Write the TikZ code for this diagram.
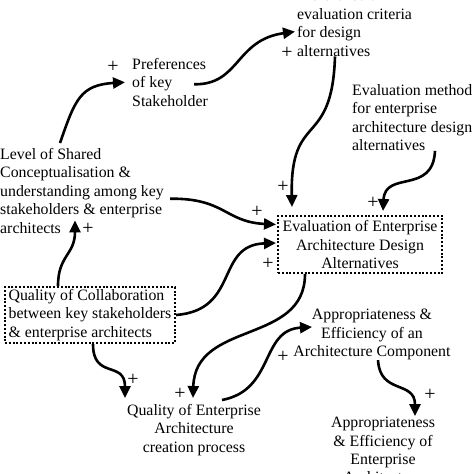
\documentclass[tikz,border=0pt]{standalone}
\usepackage{fontspec}
\setmainfont{Liberation Serif}
\usetikzlibrary{arrows.meta}
\tikzset{
	txt/.style={inner sep=0pt, font=\fontsize{15.9}{18.5}\selectfont},
	dotbox/.style={txt, draw, line width=2bp, dash pattern=on 2bp off 1.8bp},
	sign/.style={inner sep=0pt, font=\fontsize{20}{20}\selectfont},
	link/.style={line width=2.6bp, -{Triangle[length=12bp,width=11bp]}}
}
\begin{document}
\begin{tikzpicture}[x=1bp,y=-1bp]
	\useasboundingbox (0,0) rectangle (474,474);
	\clip (0,0) rectangle (474,474);
	\node[txt,anchor=north west,align=left] (crit) at (297,-10.5) {Preference of\\evaluation criteria\\for design\\alternatives};
	\node[txt,anchor=north west,align=left] (pref) at (132,58) {Preferences\\of key\\Stakeholder};
	\node[txt,anchor=north west,align=left] (meth) at (352,84) {Evaluation method\\for enterprise\\architecture design\\alternatives};
	\node[txt,anchor=north west,align=left] (level) at (0,148) {Level of Shared\\Conceptualisation \&\\understanding among key\\stakeholders \& enterprise\\architects};
	\node[dotbox,align=center,minimum width=164bp,minimum height=57bp] (eval) at (360,244.5) {Evaluation of Enterprise\\Architecture Design\\Alternatives};
	\node[dotbox,align=left,minimum width=170bp,minimum height=56bp] (collab) at (90,315) {Quality of Collaboration\\between key stakeholders\\\& enterprise architects};
	\node[txt,anchor=north,align=center] (qeap) at (194,404) {Quality of Enterprise\\Architecture\\creation process};
	\node[txt,anchor=north,align=center] (comp) at (372,309) {Appropriateness \&\\Efficiency of an\\Architecture Component};
	\node[txt,anchor=north,align=center] (entp) at (383,417) {Appropriateness\\\& Efficiency of\\Enterprise\\Architecture};
	\node[sign] (sPref) at (113,67) {+};
	\node[sign] (sCrit) at (287,53) {+};
	\node[sign] (sEvalA) at (283,187) {+};
	\node[sign] (sEvalB) at (373,203) {+};
	\node[sign] (sEvalC) at (257,212) {+};
	\node[sign] (sLevel) at (88,229) {+};
	\node[sign] (sEvalD) at (268,264) {+};
	\node[sign] (sQeapA) at (133,380) {+};
	\node[sign] (sQeapB) at (180,394) {+};
	\node[sign] (sComp) at (283,357) {+};
	\node[sign] (sEntp) at (430,395) {+};
	\draw[link] ([xshift=60bp,yshift=5bp]level.north west) .. controls (75,100) and (80,85) .. ([xshift=-7bp]pref.west);
	\draw[link] ([xshift=-14bp,yshift=-2bp]pref.east) .. controls (240,85) and (235,40) .. ([xshift=-2bp,yshift=-8.6bp]crit.west);
	\draw[link] ([xshift=38bp]crit.south west) .. controls (332,150) and (290,110) .. ([xshift=-68bp,yshift=8bp]eval.north);
	\draw[link] ([xshift=83bp]meth.south west) .. controls (433,195) and (385,170) .. ([xshift=23bp,yshift=4bp]eval.north);
	\draw[link] ([xshift=6bp,yshift=-8bp]level.east) .. controls (225,198) and (225,222) .. ([xshift=-1bp,yshift=20bp]eval.west);
	\draw[link] ([xshift=-32bp]collab.north) .. controls (58,255) and (75,255) .. ([xshift=75bp,yshift=13bp]level.south west);
	\draw[link] (collab.east) .. controls (240,310) and (215,245) .. ([xshift=-1bp,yshift=1.5bp]eval.west);
	\draw[link] ([xshift=-55bp]eval.south) .. controls (305,345) and (195,320) .. ([xshift=-1bp,yshift=6bp]qeap.north);
	\draw[link] ([xshift=3bp]collab.south) .. controls (93,380) and (125,360) .. ([xshift=-69bp,yshift=6bp]qeap.north);
	\draw[link] ([xshift=28bp,yshift=4bp]qeap.north) .. controls (275,390) and (260,330) .. ([xshift=-60bp,yshift=-18bp]comp.north);
	\draw[link] ([xshift=6bp]comp.south) .. controls (380,395) and (415,380) .. ([xshift=32bp,yshift=1bp]entp.north);
\end{tikzpicture}
\end{document}
